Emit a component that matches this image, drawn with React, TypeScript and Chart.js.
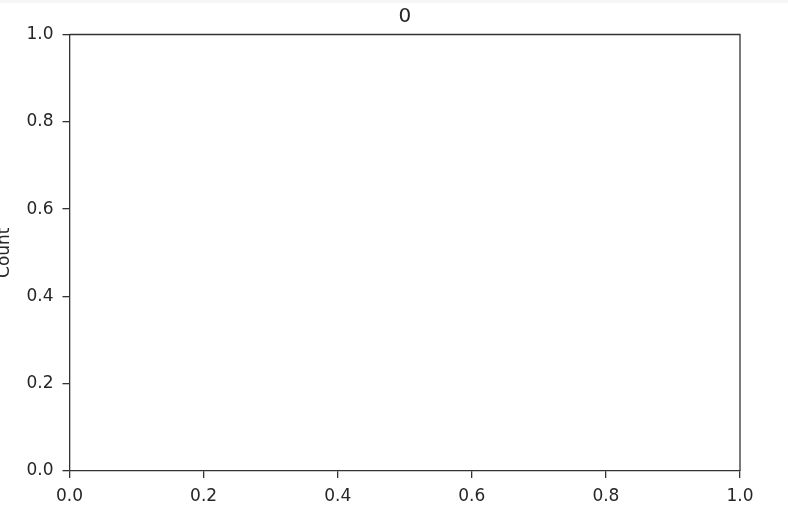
import { useEffect, useRef } from 'react'
import { Chart, registerables, type Plugin } from 'chart.js'

Chart.register(...registerables)

// the reference is an empty histogram frame: no bins, just axes
const TITLE = '0'
const Y_LABEL = 'Count'
const X_TICKS = [0, 0.2, 0.4, 0.6, 0.8, 1.0]
const Y_TICKS = [0, 0.2, 0.4, 0.6, 0.8, 1.0]
const X_VALUES: number[] = []
const Y_VALUES: number[] = []

const INK = '#262626'
const SPINE = '#333333'
const FONT = "'DejaVu Sans', sans-serif"
const SHIFT = 6 // canvas pushed left so the y label gets clipped like the screenshot

// top and right spines plus a title centred over the axes, matplotlib style
const boxPlugin: Plugin = {
  id: 'box',
  afterDraw(chart) {
    const { ctx, chartArea } = chart
    ctx.save()
    ctx.strokeStyle = SPINE
    ctx.lineWidth = 1.3
    ctx.beginPath()
    ctx.moveTo(chartArea.left, chartArea.top)
    ctx.lineTo(chartArea.right, chartArea.top)
    ctx.lineTo(chartArea.right, chartArea.bottom)
    ctx.stroke()

    ctx.fillStyle = INK
    ctx.font = `20px ${FONT}`
    ctx.textAlign = 'center'
    ctx.textBaseline = 'middle'
    ctx.fillText(TITLE, (chartArea.left + chartArea.right) / 2, chartArea.top - 18)
    ctx.restore()
  },
}

export default function App() {
  const canvasRef = useRef<HTMLCanvasElement>(null)

  useEffect(() => {
    document.body.style.margin = '0'
    if (!canvasRef.current) return

    const chart = new Chart(canvasRef.current, {
      type: 'scatter',
      data: {
        datasets: [
          {
            data: X_VALUES.map((x, i) => ({ x, y: Y_VALUES[i] })),
            backgroundColor: '#1f77b4',
          },
        ],
      },
      options: {
        responsive: false,
        animation: false,
        layout: { padding: { left: 0, right: 48, top: 34.5, bottom: 0 } },
        plugins: {
          legend: { display: false },
          tooltip: { enabled: false },
          title: { display: false },
        },
        scales: {
          x: {
            type: 'linear',
            min: 0,
            max: 1,
            afterBuildTicks: (s) => {
              s.ticks = X_TICKS.map((value) => ({ value }))
            },
            afterFit: (s) => {
              s.height = 47
            },
            ticks: {
              color: INK,
              font: { family: FONT, size: 17 },
              padding: 8,
              maxRotation: 0,
              callback: (v) => Number(v).toFixed(1),
            },
            grid: {
              drawOnChartArea: false,
              drawTicks: true,
              tickLength: 7,
              color: SPINE,
              lineWidth: 1.3,
            },
            border: { display: true, color: SPINE, width: 1.3 },
          },
          y: {
            type: 'linear',
            min: 0,
            max: 1,
            afterBuildTicks: (s) => {
              s.ticks = Y_TICKS.map((value) => ({ value }))
            },
            afterFit: (s) => {
              s.width = 69.5 + SHIFT
            },
            title: {
              display: true,
              text: Y_LABEL,
              color: INK,
              font: { family: FONT, size: 17 },
              padding: { top: 0, bottom: 0 },
            },
            ticks: {
              color: INK,
              font: { family: FONT, size: 17 },
              padding: 9,
              callback: (v) => Number(v).toFixed(1),
            },
            grid: {
              drawOnChartArea: false,
              drawTicks: true,
              tickLength: 7,
              color: SPINE,
              lineWidth: 1.3,
            },
            border: { display: true, color: SPINE, width: 1.3 },
          },
        },
      },
      plugins: [boxPlugin],
    })

    return () => chart.destroy()
  }, [])

  return (
    <div style={{ position: 'relative', width: 788, height: 518, overflow: 'hidden', background: '#fff' }}>
      <div style={{ position: 'absolute', left: 0, top: 0, width: 788, height: 3, background: '#f6f6f6' }} />
      <canvas
        ref={canvasRef}
        width={788 + SHIFT}
        height={518}
        style={{ position: 'absolute', left: -SHIFT, top: 0, width: 788 + SHIFT, height: 518 }}
      />
    </div>
  )
}
